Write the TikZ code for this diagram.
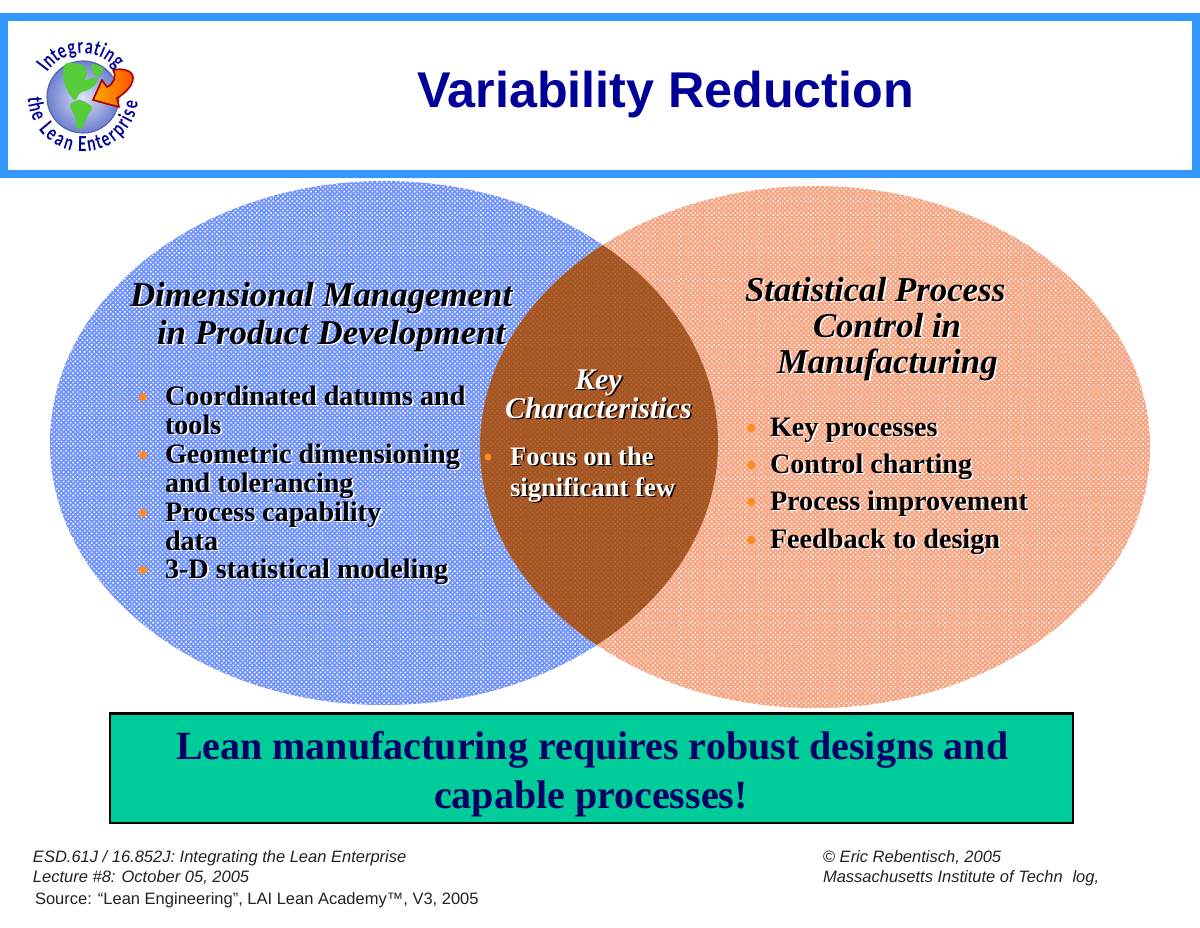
\documentclass[tikz,border=0pt]{standalone}
\usepackage{fontspec}
\setmainfont{Liberation Serif}
\setsansfont{Liberation Sans}
\newfontfamily\logofontA[FakeStretch=0.72]{Lato}
\usetikzlibrary{shadings,patterns.meta}
\definecolor{frameblue}{HTML}{3399FF}
\definecolor{titlenavy}{HTML}{000099}
\definecolor{boxnavy}{HTML}{000066}
\definecolor{venblue}{HTML}{7093FC}
\definecolor{venorange}{HTML}{F8A27E}
\definecolor{venmix}{HTML}{A35524}
\definecolor{venmixdot}{HTML}{B86C34}
\definecolor{bulorange}{HTML}{FF8A1E}
\definecolor{boxgreen}{HTML}{00CC99}
\definecolor{footgray}{HTML}{222222}
\definecolor{landgreen}{HTML}{55CC38}
\definecolor{globein}{HTML}{DDE2F8}
\definecolor{globeout}{HTML}{6E80D0}
\definecolor{globeedge}{HTML}{5566AA}
\newcommand{\shadtxt}[3]{\makebox[0pt][l]{\kern1pt\raisebox{-1pt}{\color{#2}#3}}{\color{#1}#3}}
\tikzset{
  txt/.style={anchor=base west,inner sep=0pt,outer sep=0pt},
  headA/.style={txt,font=\fontsize{20.9}{24}\selectfont\bfseries\itshape},
  itemA/.style={txt,font=\fontsize{16.9}{20}\selectfont\bfseries},
  headB/.style={txt,font=\fontsize{18}{20}\selectfont\bfseries\itshape},
  itemB/.style={txt,font=\fontsize{16}{18}\selectfont\bfseries},
  bulletdot/.style={circle,fill=bulorange,inner sep=0pt,minimum size=5pt},
  foot/.style={txt,text=footgray,font=\sffamily\fontsize{9.9}{11}\selectfont\itshape},
  boxtxt/.style={txt,text=boxnavy,font=\fontsize{24}{27}\selectfont\bfseries},
  dither/.style={pattern={Dots[distance=2pt,radius=0.6pt,angle=45]},pattern color=#1},
  logoletter/.style={anchor=base,inner sep=0pt,outer sep=0pt,text=titlenavy,font=\logofontA\bfseries\fontsize{12.5}{15}\selectfont},
}
\begin{document}
\begin{tikzpicture}[x=0.6pt,y=-0.6pt]
\useasboundingbox (0,0) rectangle (1200,927);
\fill[white] (0,0) rectangle (1200,927);
% header frame
\draw[frameblue,line width=4.8pt,fill=white] (4,17) rectangle (1196,173.5);
\node[txt,text=titlenavy,font=\sffamily\fontsize{30.15}{34}\selectfont\bfseries] (title) at (417,107) {Variability Reduction};
% venn
\fill[venblue] (384,443) ellipse [x radius=334,y radius=262];
\fill[dither=white] (384,443) ellipse [x radius=334,y radius=262];
\fill[venorange] (815,447) ellipse [x radius=335,y radius=261];
\fill[dither=white] (815,447) ellipse [x radius=335,y radius=261];
\begin{scope}
\clip (384,443) ellipse [x radius=334,y radius=262];
\fill[venmix] (815,447) ellipse [x radius=335,y radius=261];
\fill[dither=venmixdot] (815,447) ellipse [x radius=335,y radius=261];
\end{scope}
% left
\node[headA] (la) at (130,306) {\shadtxt{black}{white}{Dimensional Management}};
\node[headA] (lb) at (157,344) {\shadtxt{black}{white}{in Product Development}};
\foreach \n/\y in {a/397,c/455,e/513,g/570}{\node[bulletdot] (bl\n) at (143,\y) {};}
\node[itemA] (l1) at (165,405) {\shadtxt{black}{white}{Coordinated datums and}};
\node[itemA] (l2) at (165,434) {\shadtxt{black}{white}{tools}};
\node[itemA] (l3) at (165,463) {\shadtxt{black}{white}{Geometric dimensioning}};
\node[itemA] (l4) at (165,492) {\shadtxt{black}{white}{and tolerancing}};
\node[itemA] (l5) at (165,521) {\shadtxt{black}{white}{Process capability}};
\node[itemA] (l6) at (165,550) {\shadtxt{black}{white}{data}};
\node[itemA] (l7) at (165,578) {\shadtxt{black}{white}{3-D statistical modeling}};
% right
\node[headA] (ra) at (745,301) {\shadtxt{black}{white}{Statistical Process}};
\node[headA] (rb) at (813,337) {\shadtxt{black}{white}{Control in}};
\node[headA] (rc) at (777,373) {\shadtxt{black}{white}{Manufacturing}};
\foreach \n/\y in {a/428,b/465,c/502,d/540}{\node[bulletdot] (br\n) at (751,\y) {};}
\node[itemA] (r1) at (770,436) {\shadtxt{black}{white}{Key processes}};
\node[itemA] (r2) at (770,473) {\shadtxt{black}{white}{Control charting}};
\node[itemA] (r3) at (770,510) {\shadtxt{black}{white}{Process improvement}};
\node[itemA] (r4) at (770,548) {\shadtxt{black}{white}{Feedback to design}};
% centre
\node[headB] (ca) at (575,389) {\shadtxt{white}{black}{Key}};
\node[headB] (cb) at (505,418) {\shadtxt{white}{black}{Characteristics}};
\node[bulletdot,minimum size=4.2pt] (bc) at (488,457) {};
\node[itemB] (c1) at (510,465) {\shadtxt{white}{black}{Focus on the}};
\node[itemB] (c2) at (510,496) {\shadtxt{white}{black}{significant few}};
% green box
\node[draw=black,line width=1.3pt,fill=boxgreen,minimum width=578pt,minimum height=65.5pt,inner sep=0pt] (box) at (591.5,768) {};
\node[boxtxt] (b1) at (176,759) {Lean manufacturing requires robust designs and};
\node[boxtxt] (b2) at (434,808) {capable processes!};
% footer
\node[foot] (f1) at (33,862) {ESD.61J / 16.852J: Integrating the Lean Enterprise};
\node[foot] (f2) at (33,882) {Lecture \#8: October 05, 2005};
\node[foot,font=\sffamily\fontsize{9.9}{11}\selectfont] (f3) at (35,904) {Source: “Lean Engineering”, LAI Lean Academy™, V3, 2005};
\node[foot] (f4) at (823,862) {\textup{©} Eric Rebentisch, 2005};
\node[foot] (f5) at (823,882) {Massachusetts Institute of Techn\hspace{0.6em}log,};
% logo
\shade[inner color=globein,outer color=globeout] (83,97) circle [radius=21.6pt];
\draw[globeedge,line width=0.7pt] (83,97) circle [radius=21.6pt];
\fill[landgreen] plot[smooth cycle,tension=0.5] coordinates {(63,72)(67,63)(82,65)(87,73)(85,80)(92,78)(98,78)(95,85)(88,90)(80,93)(75,100)(70,95)(65,85)};
\fill[landgreen] plot[smooth cycle,tension=0.5] coordinates {(70,105)(80,100)(92,107)(88,115)(82,128)(77,128)(75,117)};
\fill[landgreen] plot[smooth cycle,tension=0.5] coordinates {(92,64)(103,68)(98,77)(93,72)};
\draw[line width=1pt,draw=red!65!black,left color=orange!70!yellow,right color=orange!70!red,line join=round]
  (93,100) -- (102,80) -- (107,87) .. controls (114,84) and (117,76) .. (113,70)
  .. controls (122,68) and (133,70) .. (133,78) .. controls (133,86) and (124,94) .. (117,98) -- (119,107) -- cycle;
\begin{scope}[shift={(83,97)},y=0.6pt]
\foreach \c/\k [count=\i] in {I/0,n/0.8,t/1.55,e/2.3,g/3.3,r/4.15,a/5,t/5.8,i/6.4,n/7.15,g/8.15}{
  \pgfmathsetmacro{\ang}{143-12*\k}
  \node[logoletter,rotate=\ang-90] (top\i) at (\ang:26pt) {\c};
}
\foreach \c/\k [count=\i] in {t/0,h/0.8,e/1.8,L/3.3,e/4.25,a/5.25,n/6.25,E/7.7,n/8.65,t/9.45,e/10.25,r/11.1,p/11.95,r/12.8,i/13.4,s/14.1,e/15.05}{
  \pgfmathsetmacro{\ang}{183+11.2*\k}
  \node[logoletter,rotate=\ang+90] (bot\i) at (\ang:33pt) {\c};
}
\end{scope}
\end{tikzpicture}
\end{document}
